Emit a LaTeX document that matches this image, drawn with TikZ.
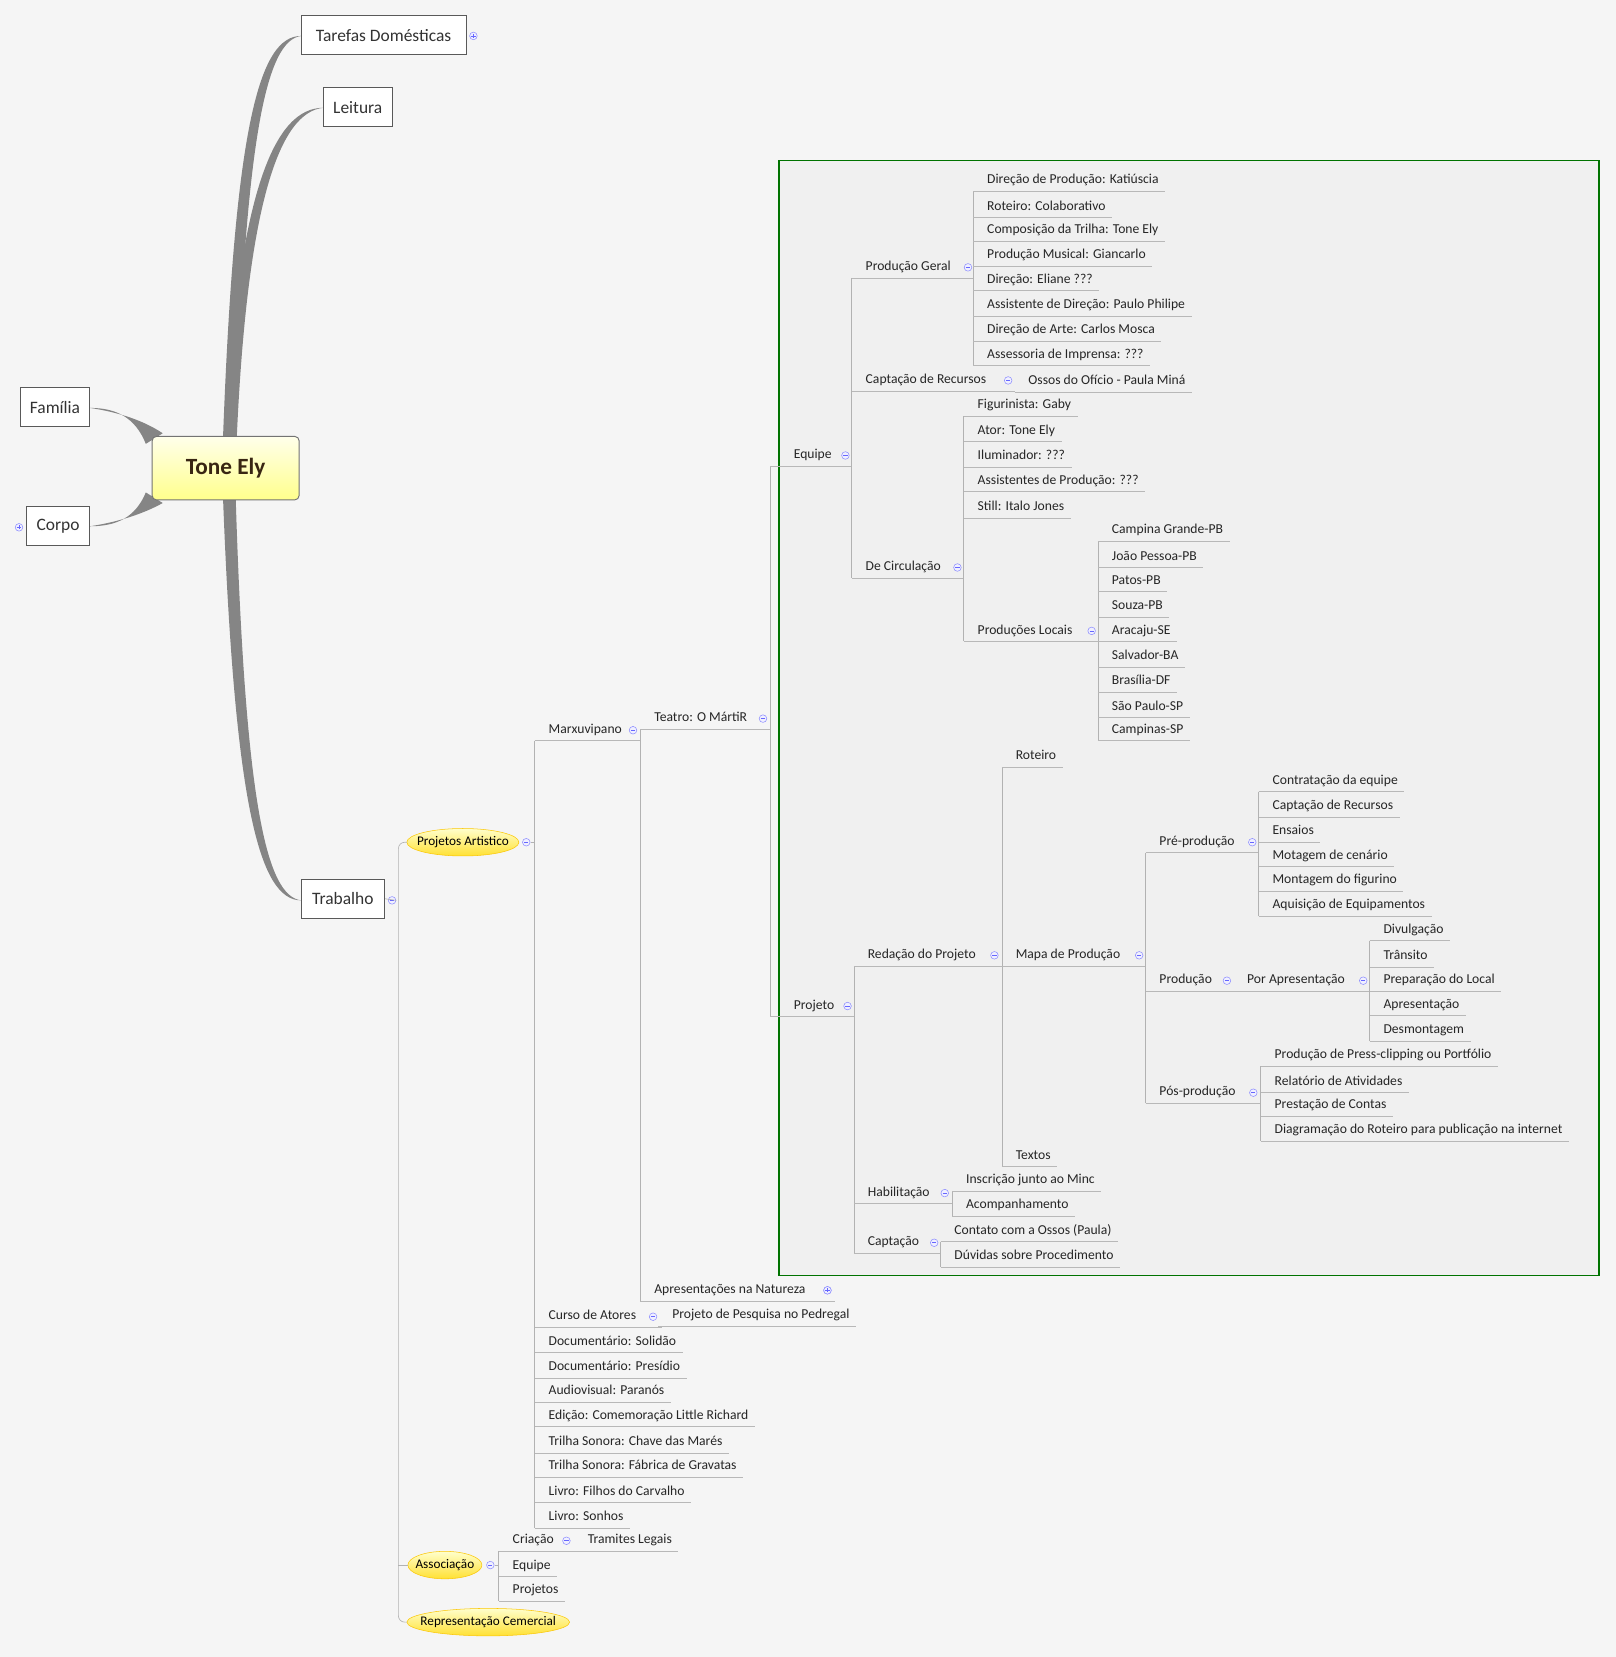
\documentclass[tikz,border=0pt]{standalone}
\usepackage{fontspec}
\setmainfont{Carlito}
\newcounter{idx}
\tikzset{
  lf/.style={inner sep=0pt,font=\fontsize{12.9}{14}\selectfont,text=black!85},
  ul/.style={draw=black!28,line width=0.6pt},
  cn/.style={draw=black!30,line width=0.6pt},
  ic/.style={draw=blue!45,fill=blue!6,line width=0.5pt},
  mt/.style={draw=black!65,line width=0.9pt,fill=white,inner xsep=7pt,minimum height=37pt,font=\fontsize{16.5}{18}\selectfont,text=black!80},
  elbg/.style={draw=yellow!60!orange,line width=0.5pt,top color=yellow!20,bottom color=yellow!70!orange!80},
  eltx/.style={inner sep=0pt,font=\fontsize{12.5}{14}\selectfont},
  br/.style={fill=black!48,draw=none}
}
\newcommand\myleaf[3]{\stepcounter{idx}%
  \node[lf,anchor=base west](n\theidx) at (#1+13,#2+4){#3};
  \coordinate (u\theidx) at (#1,#2+11);
  \draw[ul] (u\theidx) -- ([xshift=6pt]n\theidx.east |- u\theidx);}
\newcommand\mypar[5]{\stepcounter{idx}%
  \node[lf,anchor=base west](n\theidx) at (#1+13,#2+4){#3};
  \coordinate (u\theidx) at (#1,#2+11);
  \coordinate (e\theidx) at (#5,#2+11);
  \draw[ul] (u\theidx) -- (e\theidx);
  \myminus{#4}{#2+1}}
\newcommand\myminus[2]{\draw[ic] (#1,#2) circle (3.6);\draw[blue!60,line width=0.6pt] (#1-2,#2) -- (#1+2,#2);}
\newcommand\myplus[2]{\myminus{#1}{#2}\draw[blue!60,line width=0.6pt] (#1,#2-2) -- (#1,#2+2);}
\newcommand\vl[3]{\draw[cn] (#1,#2+11) -- (#1,#3+11);}
% name, cx, cy, half width, text
\newcommand\myell[5]{\shade[elbg] (#2,#3) ellipse ({#4} and 13);
  \node[eltx] (#1) at (#2,#3) {#5};
  \coordinate (#1w) at (#2-#4,#3);}
\begin{document}
\begin{tikzpicture}[x=1pt,y=-1pt]
\useasboundingbox (0,0) rectangle (1529,1568);
\fill[black!4] (0,0) rectangle (1529,1568);
\draw[green!45!black,line width=1.3pt,fill=black!6] (737,152) rectangle (1513,1207);
% branches
\fill[br] (211,415) .. controls (222,120) and (245,34) .. (285,34) .. controls (252,38) and (232,130) .. (223,415) -- cycle;
\fill[br] (213,415) .. controls (225,180) and (260,102) .. (306,102) .. controls (265,106) and (234,190) .. (224,415) -- cycle;
\fill[br] (138,420) .. controls (128,395) and (110,386) .. (85,386) .. controls (112,390) and (136,398) .. (154,410) -- cycle;
\fill[br] (138,466) .. controls (128,490) and (110,498) .. (85,498) .. controls (112,494) and (136,486) .. (154,476) -- cycle;
\fill[br] (211,470) .. controls (222,760) and (245,852) .. (285,852) .. controls (252,848) and (232,760) .. (223,470) -- cycle;
% root & main topics
\node[draw=black!55,line width=0.9pt,rounded corners=4pt,top color=yellow!8,bottom color=yellow!45,minimum width=139pt,minimum height=60pt,font=\fontsize{22}{24}\selectfont\bfseries,text=black!70!brown] (root) at (213.5,443) {Tone Ely};
\node[mt,minimum width=156pt] (tar) at (363,33.5) {Tarefas Domésticas};
\myplus{448}{34}
\node[mt,minimum width=65pt] (lei) at (338.5,101.5) {Leitura};
\node[mt,minimum width=66pt] (fam) at (52,385.5) {Família};
\node[mt,minimum width=60pt] (cor) at (55,498) {Corpo};
\myplus{18}{499}
\node[mt,minimum width=79pt] (tra) at (324.5,850.5) {Trabalho};
\myminus{371}{852}
% Trabalho level
\myell{pa}{438}{797}{53}{Projetos Artistico}
\myminus{498}{797}
\myell{as}{421}{1481}{35}{Associação}
\myminus{464}{1481}
\myell{rc}{462}{1535}{77}{Representação Cemercial}
\draw[cn] (tra.east) -- (375,852);
\draw[cn,rounded corners=6pt] (paw) -| (377,1535) -- (rcw);
\draw[cn,rounded corners=6pt] (377,1481) -- (asw);
\draw[cn] (502,797) -- (506,797);
\draw[cn] (468,1481) -- (472,1481);
% Projetos Artistico children
\vl{506}{690}{1435}
\mypar{506}{690}{Marxuvipano}{599}{606}
\mypar{506}{1245}{Curso de Atores}{618}{626}
\myleaf{623}{1244}{Projeto de Pesquisa no Pedregal}
\myleaf{506}{1269}{Documentário: Solidão}
\myleaf{506}{1293}{Documentário: Presídio}
\myleaf{506}{1316}{Audiovisual: Paranós}
\myleaf{506}{1339}{Edição: Comemoração Little Richard}
\myleaf{506}{1364}{Trilha Sonora: Chave das Marés}
\myleaf{506}{1387}{Trilha Sonora: Fábrica de Gravatas}
\myleaf{506}{1411}{Livro: Filhos do Carvalho}
\myleaf{506}{1435}{Livro: Sonhos}
% Marxuvipano
\vl{606}{679}{1220}
\mypar{606}{679}{Teatro: O MártiR}{722}{729}
\mypar{606}{1220}{Apresentações na Natureza}{783}{790}
\myplus{783}{1221}
% Teatro
\vl{729}{430}{951}
\mypar{738}{430}{Equipe}{800}{806}
\draw[ul] (729,441) -- (738,441);
\mypar{738}{951}{Projeto}{802}{808}
\draw[ul] (729,962) -- (738,962);
% Equipe
\vl{806}{252}{536}
\mypar{806}{252}{Produção Geral}{916}{921}
\mypar{806}{359}{Captação de Recursos}{954}{960}
\myleaf{960}{360}{Ossos do Ofício - Paula Miná}
\mypar{806}{536}{De Circulação}{906}{912}
% Produção Geral
\vl{921}{170}{335}
\myleaf{921}{170}{Direção de Produção: Katiúscia}
\myleaf{921}{195}{Roteiro: Colaborativo}
\myleaf{921}{217}{Composição da Trilha: Tone Ely}
\myleaf{921}{241}{Produção Musical: Giancarlo}
\myleaf{921}{264}{Direção: Eliane ???}
\myleaf{921}{288}{Assistente de Direção: Paulo Philipe}
\myleaf{921}{312}{Direção de Arte: Carlos Mosca}
\myleaf{921}{335}{Assessoria de Imprensa: ???}
% De Circulação
\vl{912}{383}{596}
\myleaf{912}{383}{Figurinista: Gaby}
\myleaf{912}{407}{Ator: Tone Ely}
\myleaf{912}{431}{Iluminador: ???}
\myleaf{912}{454}{Assistentes de Produção: ???}
\myleaf{912}{479}{Still: Italo Jones}
\mypar{912}{596}{Produções Locais}{1033}{1039}
% Produções Locais
\vl{1039}{501}{690}
\myleaf{1039}{501}{Campina Grande-PB}
\myleaf{1039}{526}{João Pessoa-PB}
\myleaf{1039}{549}{Patos-PB}
\myleaf{1039}{573}{Souza-PB}
\myleaf{1039}{596}{Aracaju-SE}
\myleaf{1039}{620}{Salvador-BA}
\myleaf{1039}{644}{Brasília-DF}
\myleaf{1039}{668}{São Paulo-SP}
\myleaf{1039}{690}{Campinas-SP}
% Projeto
\vl{808}{903}{1175}
\mypar{808}{903}{Redação do Projeto}{941}{948}
\mypar{808}{1128}{Habilitação}{894}{901}
\mypar{808}{1175}{Captação}{884}{890}
% Redação
\vl{948}{715}{1093}
\myleaf{948}{715}{Roteiro}
\mypar{948}{903}{Mapa de Produção}{1078}{1084}
\myleaf{948}{1093}{Textos}
% Mapa
\vl{1084}{796}{1033}
\mypar{1084}{796}{Pré-produção}{1185}{1191}
\mypar{1084}{927}{Produção}{1161}{1167}
\mypar{1167}{927}{Por Apresentação}{1290}{1296}
\mypar{1084}{1033}{Pós-produção}{1186}{1193}
% Pré
\vl{1191}{738}{856}
\myleaf{1191}{738}{Contratação da equipe}
\myleaf{1191}{762}{Captação de Recursos}
\myleaf{1191}{786}{Ensaios}
\myleaf{1191}{809}{Motagem de cenário}
\myleaf{1191}{832}{Montagem do figurino}
\myleaf{1191}{856}{Aquisição de Equipamentos}
% Por Apresentação
\vl{1296}{879}{974}
\myleaf{1296}{879}{Divulgação}
\myleaf{1296}{904}{Trânsito}
\myleaf{1296}{927}{Preparação do Local}
\myleaf{1296}{950}{Apresentação}
\myleaf{1296}{974}{Desmontagem}
% Pós
\vl{1193}{998}{1069}
\myleaf{1193}{998}{Produção de Press-clipping ou Portfólio}
\myleaf{1193}{1023}{Relatório de Atividades}
\myleaf{1193}{1045}{Prestação de Contas}
\myleaf{1193}{1069}{Diagramação do Roteiro para publicação na internet}
% Habilitação
\vl{901}{1116}{1140}
\myleaf{901}{1116}{Inscrição junto ao Minc}
\myleaf{901}{1140}{Acompanhamento}
% Captação
\vl{890}{1164}{1188}
\myleaf{890}{1164}{Contato com a Ossos (Paula)}
\myleaf{890}{1188}{Dúvidas sobre Procedimento}
% Associação
\vl{472}{1457}{1504}
\mypar{472}{1457}{Criação}{536}{543}
\myleaf{543}{1457}{Tramites Legais}
\myleaf{472}{1481}{Equipe}
\myleaf{472}{1504}{Projetos}
\end{tikzpicture}
\end{document}
